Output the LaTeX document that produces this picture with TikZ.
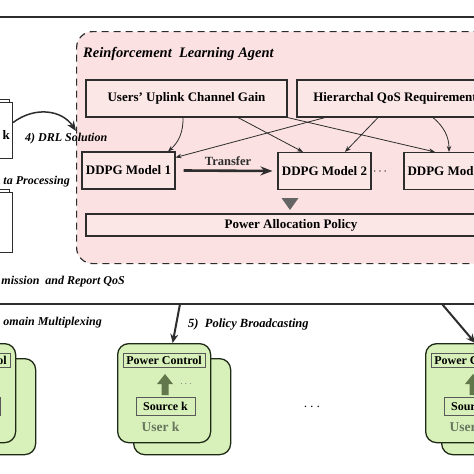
\documentclass[tikz,border=0pt]{standalone}
\usepackage{fontspec}
\setmainfont{Liberation Serif}
\usetikzlibrary{arrows.meta,calc}
\definecolor{pinkbg}{RGB}{251,225,225}
\definecolor{boxpink}{RGB}{252,231,231}
\definecolor{lineg}{RGB}{45,45,45}
\definecolor{greenfill}{RGB}{216,240,186}
\definecolor{greenline}{RGB}{30,42,22}
\definecolor{arrowgreen}{RGB}{98,120,76}
\definecolor{usertext}{RGB}{105,118,95}
\definecolor{tri}{RGB}{100,100,100}
\newcommand{\ugroup}[6]{%
  \begin{scope}[xshift=#1pt]
    \node[ubox, minimum width=97pt, minimum height=96pt, anchor=north west] (#2back) at (133,358) {};
    \node[ubox, minimum width=93pt, minimum height=99pt, anchor=north west] (#2front) at (117,343) {};
    \node[pcbox, minimum width=82pt, minimum height=14pt] (#2pc) at (164,360) {#3};
    \fill[arrowgreen] (161.5,395) -- (161.5,384) -- (157,384) -- (165,374) -- (173,384) -- (168.5,384) -- (168.5,395) -- cycle;
    \node[pcbox, minimum width=59pt, minimum height=18pt] (#2src) at (165.5,406) {#4};
    \node[inner sep=0pt, text=usertext, font=\fontsize{13.5}{15}\selectfont\bfseries] (#2usr) at (160.5,427) {#5};
    \node[inner sep=0pt, text=black!55, font=\fontsize{10}{12}\selectfont] (#2dots) at (186,384) {#6};
  \end{scope}}
\begin{document}
\begin{tikzpicture}[x=1pt,y=-1pt,
  ibox/.style={draw=lineg, line width=1.1pt, fill=boxpink, inner sep=0pt, font=\fontsize{13}{15}\selectfont\bfseries},
  lbl/.style={inner sep=0pt, font=\fontsize{12}{14}\selectfont\bfseries\itshape},
  thinarrow/.style={draw=lineg, line width=0.8pt, -{Stealth[length=6pt,width=4.5pt]}},
  ubox/.style={draw=greenline, line width=1.3pt, fill=greenfill, rounded corners=11pt, inner sep=0pt},
  pcbox/.style={draw=black!65, line width=0.7pt, fill=greenfill, inner sep=0pt, font=\fontsize{12}{14}\selectfont\bfseries},
  sbox/.style={draw=lineg, line width=1.1pt, fill=white, inner sep=0pt},
]
\useasboundingbox (0,0) rectangle (474,474);
\clip (0,0) rectangle (474,474);
\fill[white] (0,0) rectangle (474,474);

% top separator
\coordinate (l1a) at (0,17);
\coordinate (l1b) at (474,17);
\draw[lineg, line width=1.3pt] (l1a) -- (l1b);

% agent area
\node[draw=lineg, dash pattern=on 7pt off 5pt, line width=1.2pt, fill=pinkbg, rounded corners=16pt,
      minimum width=444pt, minimum height=232pt, anchor=north west, inner sep=0pt] (agent) at (76,31) {};
\node[inner sep=0pt, anchor=west, font=\fontsize{14.5}{16}\selectfont\bfseries\itshape] (title) at (83,54) {Reinforcement\ \ Learning Agent};

\node[ibox, minimum width=201pt, minimum height=37pt] (ucg) at (186.5,98.5) {Users’ Uplink Channel Gain};
\node[ibox, minimum width=201pt, minimum height=37pt] (qos) at (397.5,98.5) {Hierarchal QoS Requirements};
\node[ibox, minimum width=93pt, minimum height=37pt] (m1) at (128.5,170.5) {DDPG Model 1};
\node[ibox, minimum width=93pt, minimum height=37pt] (m2) at (324.5,171) {DDPG Model 2};
\node[ibox, minimum width=93pt, minimum height=37pt] (mk) at (450.5,171) {DDPG Model k};
\node[inner sep=0pt, font=\fontsize{13}{15}\selectfont] (dots1) at (380,172) {$\cdots$};
\node[ibox, minimum width=410pt, minimum height=22pt] (pap) at (291,225) {Power Allocation Policy};
\fill[tri] (281.5,198) -- (298.5,198) -- (290,210) -- cycle;

\draw[lineg, line width=2.6pt, -{Stealth[length=12pt,width=9pt]}] ([xshift=8pt]m1.east) -- ([xshift=-5pt]m2.west)
  node[midway, above=4pt, inner sep=0pt, font=\fontsize{12.5}{14}\selectfont\bfseries] (tr) {Transfer};

\draw[thinarrow] ([xshift=-3.5pt]ucg.south) to[bend left=25] ([xshift=39.5pt]m1.north);
\draw[thinarrow] ([xshift=51.5pt]ucg.south) -- ([xshift=-21.5pt]m2.north);
\draw[thinarrow] (ucg.south east) -- ([xshift=-15.5pt]mk.north);
\draw[thinarrow] ([xshift=-72.5pt]qos.south) -- ([yshift=13pt]m1.east);
\draw[thinarrow] ([xshift=-19.5pt]qos.south) -- ([xshift=20.5pt]m2.north);
\draw[thinarrow] ([xshift=35.5pt]qos.south) to[bend left=25] ([xshift=-1.5pt]mk.north);

% left server boxes
\node[sbox, minimum width=40pt, minimum height=56pt, anchor=north east] (srvAb) at (10,99) {};
\node[sbox, minimum width=40pt, minimum height=56pt, anchor=north east] (srvA) at (13,102) {};
\node[inner sep=0pt, anchor=east, font=\fontsize{13}{15}\selectfont\bfseries] (srvAt) at (10,135) {k};
\node[sbox, minimum width=40pt, minimum height=60pt, anchor=north east] (srvBb) at (10,189) {};
\node[sbox, minimum width=40pt, minimum height=60pt, anchor=north east] (srvB) at (13,192) {};

\coordinate (drlend) at (76,131);
\draw[lineg, line width=1.5pt, -{Stealth[length=10pt,width=8pt]}] ([yshift=8pt]srvA.east) .. controls (35,106) and (62,110) .. (drlend);

\node[lbl, anchor=west] (drl) at (25,139) {4) DRL Solution};
\node[lbl, anchor=east] (dp) at (70,182) {ta Processing};
\node[lbl, anchor=east] (trq) at (125,282) {mission\ \ and Report QoS};

% second separator
\coordinate (l2a) at (0,304);
\coordinate (l2b) at (474,304);
\draw[lineg, line width=1.3pt] (l2a) -- (l2b);

\node[lbl, anchor=east] (tdm) at (102,323) {omain Multiplexing};
\node[lbl, anchor=west, font=\fontsize{12.5}{14}\selectfont\bfseries\itshape] (pb) at (188,325) {5)\ \ Policy Broadcasting};

% user groups
\ugroup{-195}{L}{Power Control}{}{}{}
\ugroup{0}{C}{Power Control}{Source k}{User k}{$\cdots$}
\ugroup{308}{R}{Power Control}{Source k}{User k}{}
\node[inner sep=0pt, font=\fontsize{14}{16}\selectfont] (dots2) at (312,407) {$\cdots$};

\coordinate (pbstart) at (180,304);
\draw[lineg, line width=2pt, -{Stealth[length=9pt,width=8pt]}] (pbstart) -- ([xshift=8.5pt]Cfront.north);
\coordinate (rstart) at (442,304);
\draw[lineg, line width=2pt, -{Stealth[length=9pt,width=8pt]}] (rstart) -- ([xshift=3pt]Rfront.north);
\end{tikzpicture}
\end{document}
